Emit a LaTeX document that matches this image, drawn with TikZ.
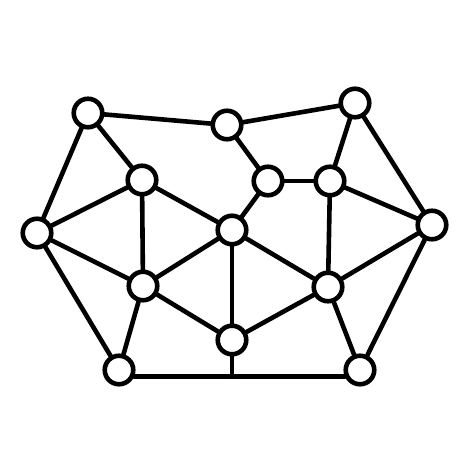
\documentclass[tikz,border=0pt]{standalone}
\usetikzlibrary{calc}

\tikzset{every picture/.style={line width=4.6pt}}
\tikzset{
  vtx/.style={circle,draw,fill=white,inner sep=0pt,minimum size=28.5pt},
  link/.style={draw,line cap=round}
}

\begin{document}
\begin{tikzpicture}[x=1pt,y=1pt,yscale=-1,xscale=1]
\useasboundingbox (0,0) rectangle (474,474);

% Nodes
\node [vtx] (A) at (88,113) {};
\node [vtx] (B) at (227,125) {};
\node [vtx] (C) at (355,103) {};
\node [vtx] (D) at (142,180) {};
\node [vtx] (E) at (268,181) {};
\node [vtx] (F) at (330,181) {};
\node [vtx] (G) at (37,233) {};
\node [vtx] (H) at (232,230) {};
\node [vtx] (I) at (432,225) {};
\node [vtx] (J) at (143,286) {};
\node [vtx] (K) at (328,287) {};
\node [vtx] (L) at (232,340) {};
\node [vtx] (M) at (119,370) {};
\node [vtx] (N) at (360,370) {};

% Edges
\draw [link] (A) -- (B);
\draw [link] (B) -- (C);
\draw [link] (A) -- (G);
\draw [link] (A) -- (D);
\draw [link] (B) -- (E);
\draw [link] (E) -- (F);
\draw [link] (E) -- (H);
\draw [link] (C) -- (F);
\draw [link] (C) -- (I);
\draw [link] (F) -- (I);
\draw [link] (F) -- (K);
\draw [link] (D) -- (G);
\draw [link] (D) -- (H);
\draw [link] (D) -- (J);
\draw [link] (G) -- (J);
\draw [link] (G) -- (M);
\draw [link] (H) -- (J);
\draw [link] (H) -- (K);
\draw [link] (H) -- (L);
\draw [link] (I) -- (K);
\draw [link] (I) -- (N);
\draw [link] (J) -- (L);
\draw [link] (J) -- (M);
\draw [link] (K) -- (L);
\draw [link] (K) -- (N);

% Bottom rail
\coordinate (ml) at (M.-24);
\coordinate (nr) at (N.204);
\draw [link] (ml) -- (nr);
\draw [link] (L) -- (L |- ml);

\end{tikzpicture}
\end{document}
